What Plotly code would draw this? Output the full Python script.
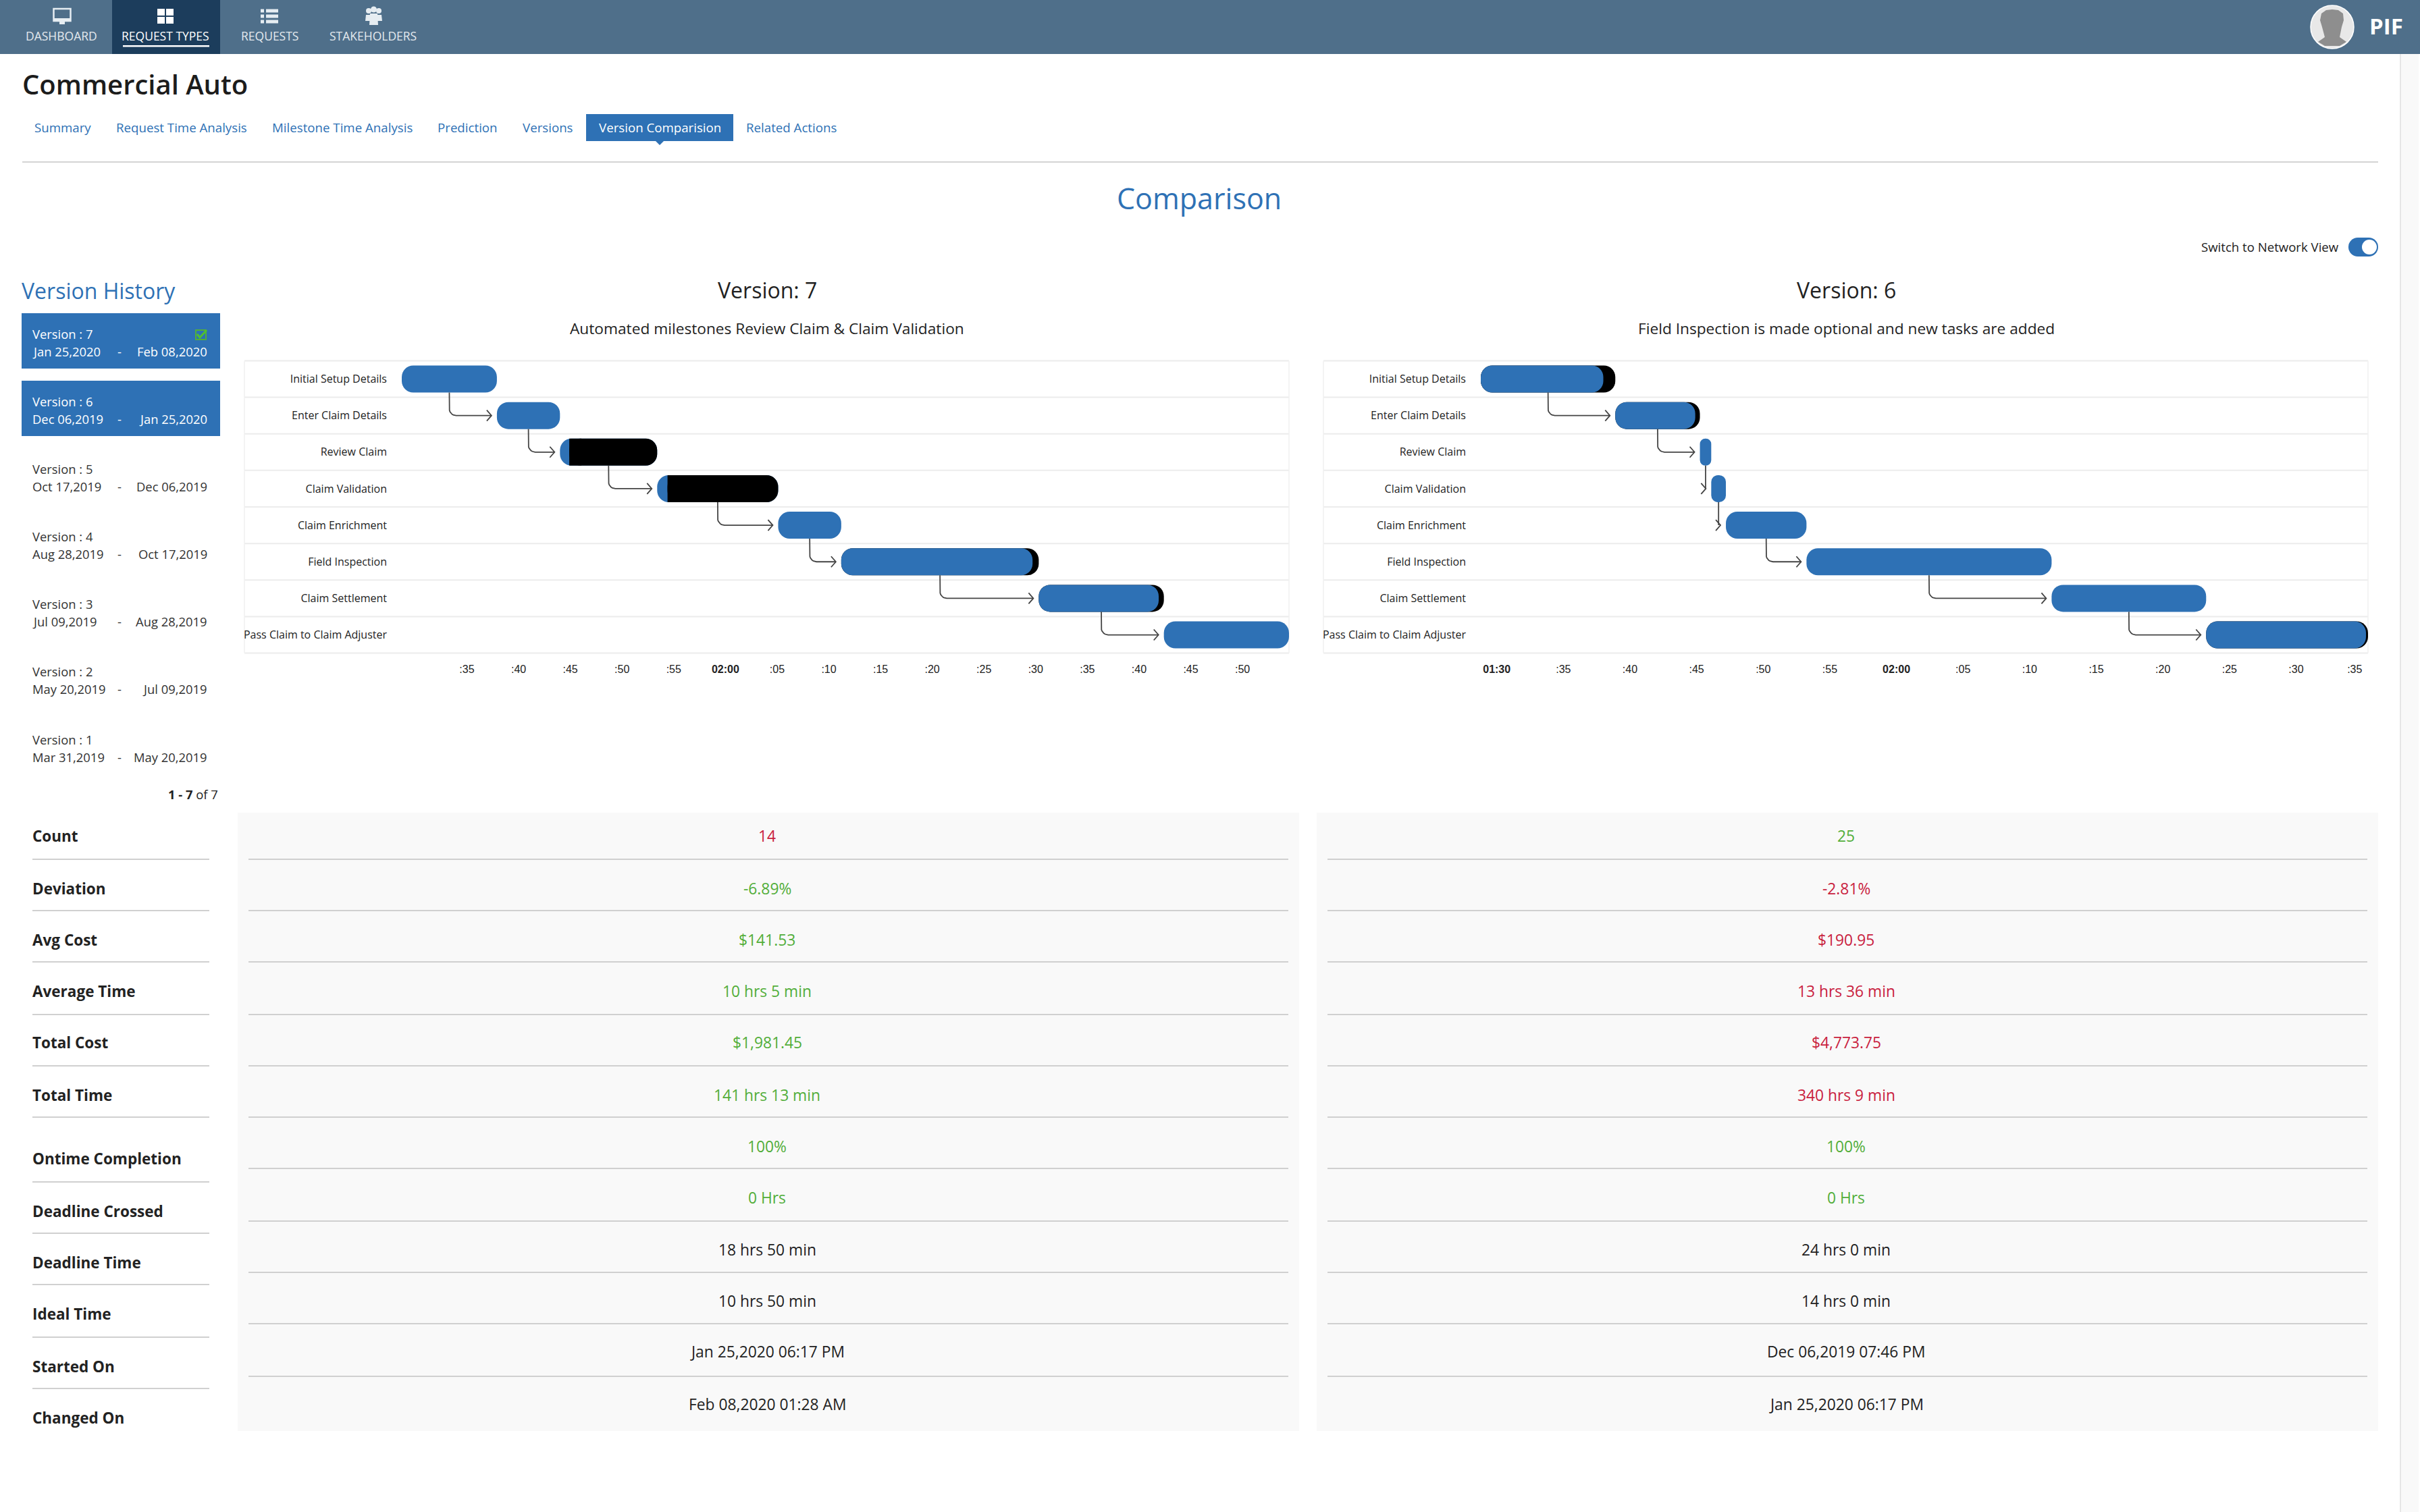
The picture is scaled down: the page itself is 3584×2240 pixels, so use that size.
import numpy as np
import plotly.graph_objects as go

W, H = 3584, 2240
BLUE = "#2e71b5"
GREEN = "#52ae3a"
RED = "#c9223f"
DARK = "#222222"
SANS = "Open Sans"

# ---------- data ----------
milestones = ["Initial Setup Details", "Enter Claim Details", "Review Claim", "Claim Validation",
              "Claim Enrichment", "Field Inspection", "Claim Settlement", "Pass Claim to Claim Adjuster"]
# minutes on the time axis (120 = 02:00)
v7_start = [88.7, 97.9, 104.0, 113.4, 125.1, 131.2, 150.3, 162.4]
v7_end = [97.9, 104.0, 113.4, 125.1, 131.2, 150.3, 162.4, 174.5]
v7_blue_end = [97.9, 104.0, 113.4, 125.1, 131.2, 149.7, 161.9, 174.5]
v7_auto_from = [None, None, 104.9, 114.4, None, None, None, None]
v7_ticks = [95, 100, 105, 110, 115, 120, 125, 130, 135, 140, 145, 150, 155, 160, 165, 170]
v7_ticktext = [":35", ":40", ":45", ":50", ":55", "<b>02:00</b>", ":05", ":10", ":15", ":20", ":25",
               ":30", ":35", ":40", ":45", ":50"]

v6_start = [88.8, 98.9, 105.25, 106.1, 107.2, 113.25, 131.65, 143.25]
v6_end = [98.9, 105.25, 106.1, 107.2, 113.25, 131.65, 143.25, 155.4]
v6_blue_end = [98.0, 104.9, 106.1, 107.2, 113.25, 131.65, 143.25, 155.25]
v6_auto_from = [None] * 8
v6_ticks = [90, 95, 100, 105, 110, 115, 120, 125, 130, 135, 140, 145, 150, 154.4]
v6_ticktext = ["<b>01:30</b>", ":35", ":40", ":45", ":50", ":55", "<b>02:00</b>", ":05", ":10", ":15",
               ":20", ":25", ":30", ":35"]

nav_items = ["DASHBOARD", "REQUEST TYPES", "REQUESTS", "STAKEHOLDERS"]
tabs = ["Summary", "Request Time Analysis", "Milestone Time Analysis", "Prediction", "Versions",
        "Version Comparision", "Related Actions"]
versions = ["Version : 7", "Version : 6", "Version : 5", "Version : 4", "Version : 3", "Version : 2", "Version : 1"]
version_from = ["Jan 25,2020", "Dec 06,2019", "Oct 17,2019", "Aug 28,2019", "Jul 09,2019", "May 20,2019", "Mar 31,2019"]
version_to = ["Feb 08,2020", "Jan 25,2020", "Dec 06,2019", "Oct 17,2019", "Aug 28,2019", "Jul 09,2019", "May 20,2019"]

metric_labels = ["Count", "Deviation", "Avg Cost", "Average Time", "Total Cost", "Total Time", "Ontime Completion",
                 "Deadline Crossed", "Deadline Time", "Ideal Time", "Started On", "Changed On"]
v7_values = ["14", "-6.89%", "$141.53", "10 hrs 5 min", "$1,981.45", "141 hrs 13 min", "100%", "0 Hrs",
             "18 hrs 50 min", "10 hrs 50 min", "Jan 25,2020 06:17 PM", "Feb 08,2020 01:28 AM"]
v6_values = ["25", "-2.81%", "$190.95", "13 hrs 36 min", "$4,773.75", "340 hrs 9 min", "100%", "0 Hrs",
             "24 hrs 0 min", "14 hrs 0 min", "Dec 06,2019 07:46 PM", "Jan 25,2020 06:17 PM"]
v7_colors = [RED, GREEN, GREEN, GREEN, GREEN, GREEN, GREEN, GREEN, DARK, DARK, DARK, DARK]
v6_colors = [GREEN, RED, RED, RED, RED, RED, GREEN, GREEN, DARK, DARK, DARK, DARK]

# ---------- layout geometry (pixels) ----------
label_y = [1238, 1316, 1392, 1468, 1544, 1622, 1716, 1794, 1870, 1946, 2024, 2100]
value_y = [1238, 1316, 1392, 1468, 1544, 1622, 1698, 1774, 1851, 1927, 2002, 2080]
label_line_y = [1273, 1349, 1425, 1503, 1579, 1655, 1751, 1827, 1903, 1981, 2057]
value_line_y = [1273, 1349, 1425, 1503, 1579, 1655, 1731, 1809, 1885, 1961, 2039]
row_top, row_bottom = 534.4, 967.6


def fx(p):
    return p / W


def fy(p):
    return 1 - p / H


fig = go.Figure()
shapes, annos = [], []


def rect(x0, y0, x1, y1, fill, layer="below"):
    shapes.append(dict(type="rect", xref="paper", yref="paper", x0=fx(x0), x1=fx(x1), y0=fy(y0), y1=fy(y1),
                       fillcolor=fill, line_width=0, layer=layer))


def hline(x0, x1, y, color="#d0d0d0", w=2):
    shapes.append(dict(type="line", xref="paper", yref="paper", x0=fx(x0), x1=fx(x1), y0=fy(y), y1=fy(y),
                       line=dict(color=color, width=w), layer="below"))


def circle(cx, cy, r, fill, line=None, lw=0):
    shapes.append(dict(type="circle", xref="paper", yref="paper", x0=fx(cx - r), x1=fx(cx + r), y0=fy(cy + r),
                       y1=fy(cy - r), fillcolor=fill, line=dict(color=line or fill, width=lw), layer="above"))


def path(pts, fill=None, line=None, lw=0, close=True):
    d = "M" + " L".join(f"{fx(a):.6f},{fy(b):.6f}" for a, b in pts) + (" Z" if close else "")
    shapes.append(dict(type="path", xref="paper", yref="paper", path=d, fillcolor=fill or "rgba(0,0,0,0)",
                       line=dict(color=line or "rgba(0,0,0,0)", width=lw), layer="above"))


def text(t, x, y, size, color=DARK, anchor="center", weight=400, family=SANS):
    annos.append(dict(text=t, xref="paper", yref="paper", x=fx(x), y=fy(y), xanchor=anchor, yanchor="middle",
                      showarrow=False, align=anchor, font=dict(family=family, size=size, color=color, weight=weight),
                      borderpad=0, borderwidth=0))


# ---------- page chrome ----------
HEAD = "#4f6f8a"
rect(0, 0, W, 80, HEAD)
rect(166, 0, 326, 80, "#1c3d5c")
rect(182, 67, 310, 69.5, "#ffffff")
nav_x = [91, 245, 399, 552]
nav_col = ["#e3e9ee", "#ffffff", "#e3e9ee", "#e3e9ee"]
for n, x, c in zip(nav_items, nav_x, nav_col):
    text(n, x, 53, 17.5, c)

# monitor
shapes.append(dict(type="rect", xref="paper", yref="paper", x0=fx(79.5), x1=fx(104.5), y0=fy(31), y1=fy(13),
                   fillcolor=HEAD, line=dict(color="#e6edf2", width=2.5), layer="above"))
rect(79, 27, 105, 32, "#e6edf2", "above")
rect(88, 32, 96, 36, "#e6edf2", "above")
# grid
for a, b in [(233, 244), (246, 257)]:
    for c, d in [(13, 23), (25, 35)]:
        rect(a, c, b, d, "#ffffff", "above")
# list
for yy in [16, 24, 32]:
    rect(386, yy - 2.5, 391, yy + 2.5, "#e6edf2", "above")
    rect(394, yy - 2.5, 412, yy + 2.5, "#e6edf2", "above")
# people
for cx, cy, r in [(546, 16, 4), (561, 16, 4), (553.5, 14, 4.5)]:
    circle(cx, cy, r, "#e6edf2")
path([(541, 31), (542, 22), (550, 22), (550, 31)], fill="#e6edf2")
path([(566, 31), (565, 22), (557, 22), (557, 31)], fill="#e6edf2")
path([(547, 37), (548, 20), (559, 20), (560, 37)], fill="#e6edf2")

# avatar
circle(3454, 40, 32, "#e8e8e8", "#ffffff", 1.5)
path([(3443, 55), (3439, 40), (3436, 30), (3438, 20), (3445, 15), (3454, 14), (3463, 15), (3470, 20), (3471, 30),
      (3468, 40), (3465, 55), (3475, 62), (3465, 68), (3443, 68), (3433, 62)], fill="#8e8e8e")
text("PIF", 3534, 39, 33, "#ffffff", weight=700)

# scrollbar strip
rect(3555, 80, 3582, H, "#f9f9f9")
rect(3554, 80, 3556, H, "#e6e6e6")

text("Commercial Auto", 33, 124.5, 40, "#1c1c1c", "left", weight=600)

tab_x = [92.5, 268.5, 507, 692, 811.5, 977, 1172]
rect(868, 169, 1086, 209, BLUE)
path([(971, 209), (983, 209), (977, 215)], fill=BLUE)
for i, (t, x) in enumerate(zip(tabs, tab_x)):
    text(t, x, 188.5, 18.7, "#ffffff" if i == 5 else BLUE)
hline(33, 3522, 240, "#d4d4d4", 2)

text("Comparison", 1776, 293.5, 43, BLUE)
text("Switch to Network View", 3464, 365, 18.6, DARK, "right")
circle(3492, 366, 14, BLUE)
circle(3508, 366, 14, BLUE)
rect(3492, 352, 3508, 380, BLUE, "above")
circle(3509, 366, 11, "#ffffff")

# ---------- version history ----------
text("Version History", 32, 430.5, 32, BLUE, "left")
rect(32, 464, 326, 546, BLUE)
rect(32, 564, 326, 646, BLUE)
for i, (v, a, b) in enumerate(zip(versions, version_from, version_to)):
    col = "#ffffff" if i < 2 else "#333333"
    y = 494.4 + i * 100.1
    text(v, 48, y, 18.4, col, "left")
    text(a, 48, y + 26, 18.4, col, "left")
    text("-", 177, y + 26, 18.4, col)
    text(b, 307, y + 26, 18.4, col, "right")
shapes.append(dict(type="rect", xref="paper", yref="paper", x0=fx(290), x1=fx(305), y0=fy(503), y1=fy(489),
                   line=dict(color=GREEN, width=2), fillcolor="rgba(0,0,0,0)", layer="above"))
path([(292, 495), (296, 500), (306, 489)], line="#4fc02f", lw=3, close=False)
text("<b>1 - 7</b> of 7", 323, 1176, 18.4, DARK, "right")

# ---------- headings ----------
text("Version: 7", 1136, 430, 32)
text("Automated milestones Review Claim & Claim Validation", 1136, 487, 22.7)
text("Version: 6", 2734, 430, 32)
text("Field Inspection is made optional and new tasks are added", 2734, 487, 22.7)

# ---------- comparison table ----------
rect(352, 1204, 1924, 2120, "#f9f9f9")
rect(1950, 1204, 3522, 2120, "#f9f9f9")
for t, y in zip(metric_labels, label_y):
    text(t, 48, y, 22.5, DARK, "left", weight=700)
for y in label_line_y:
    hline(48, 310, y)
for y in value_line_y:
    hline(368, 1908, y)
    hline(1966, 3506, y)
for t, c, y in zip(v7_values, v7_colors, value_y):
    text(t, 1136, y, 22.8, c)
for t, c, y in zip(v6_values, v6_colors, value_y):
    text(t, 2734, y, 22.8, c)

# ---------- gantt charts ----------
ROW_H = (row_bottom - row_top) / len(milestones)
BAR_H = 40 / ROW_H
RADIUS = 17
TICK_FONT = dict(family="Liberation Sans", size=16, color=DARK)


def add_gantt(suffix, start, end, blue_end, auto_from, ticks, ticktext, frame_l, frame_r, dom_l):
    xa, ya = "x" + suffix, "y" + suffix
    start, end, blue_end = map(np.array, (start, end, blue_end))
    rows = np.arange(len(start))
    px_per_min = (frame_r - dom_l) / (end[-1] - start[0])

    late = blue_end < end
    common = dict(orientation="h", width=BAR_H, xaxis=xa, yaxis=ya, showlegend=False)
    fig.add_bar(y=rows[late], x=(end - start)[late], base=start[late], name="Deadline",
                marker=dict(color="#000000", cornerradius=RADIUS, line_width=0), **common)
    fig.add_bar(y=rows, x=blue_end - start, base=start, name="Duration",
                marker=dict(color=BLUE, cornerradius=RADIUS, line_width=0), **common)
    auto_rows = [i for i, a in enumerate(auto_from) if a is not None]
    if auto_rows:
        a0 = np.array([auto_from[i] for i in auto_rows])
        fig.add_bar(y=auto_rows, x=end[auto_rows] - a0, base=a0, name="Automated",
                    marker=dict(color="#000000", cornerradius=RADIUS, line_width=0), **common)
        fig.add_bar(y=auto_rows, x=np.full(len(a0), (RADIUS + 1) / px_per_min), base=a0, name="Automated",
                    marker=dict(color="#000000", line_width=0), **common)

    # connectors
    lx, ly = [], []
    r = 10.0
    theta = np.linspace(0, np.pi / 2, 8)
    for i in rows[:-1]:
        mid = (start[i] + end[i]) / 2
        tip = start[i + 1] - 8 / px_per_min
        y0, y1 = i + BAR_H / 2, i + 1.0
        rx, ry = r / px_per_min, r / ROW_H
        if (tip - mid) > rx:
            lx += [mid] + list(mid + rx * (1 - np.cos(theta))) + [tip, None]
            ly += [y0] + list(y1 - ry * (1 - np.sin(theta))) + [y1, None]
        else:
            lx += [mid, mid, None]
            ly += [y0, y1, None]
        cx, cy = 7 / px_per_min, 8 / ROW_H
        lx += [tip - cx, tip, tip - cx, None]
        ly += [y1 - cy, y1, y1 + cy, None]
    fig.add_scatter(x=lx, y=ly, mode="lines", xaxis=xa, yaxis=ya, showlegend=False, hoverinfo="skip",
                    line=dict(color="#444444", width=1.8))

    # row lines and frame
    for k in range(len(start) + 1):
        y = row_top + k * ROW_H
        hline(frame_l, frame_r, y, "#ececec", 2)
    for xx in (frame_l, frame_r):
        shapes.append(dict(type="line", xref="paper", yref="paper", x0=fx(xx), x1=fx(xx), y0=fy(row_top),
                           y1=fy(row_bottom), line=dict(color="#f1f1f1", width=1.5), layer="below"))

    dom = [fx(dom_l), fx(frame_r)]
    fig.layout["xaxis" + suffix] = dict(
        domain=dom, range=[start[0], end[-1]], anchor=ya, showgrid=False, zeroline=False, showline=False,
        tickmode="array", tickvals=ticks, ticktext=ticktext, ticks="", tickfont=TICK_FONT, ticklabelstandoff=12,
        fixedrange=True)
    fig.layout["yaxis" + suffix] = dict(
        domain=[fy(row_bottom), fy(row_top)], range=[len(start) - 0.5, -0.5], anchor=xa, showgrid=False,
        zeroline=False, showline=False, tickmode="array", tickvals=list(rows), ticktext=milestones, ticks="",
        tickfont=dict(family=SANS, size=16, color=DARK), ticklabelstandoff=21, fixedrange=True)


add_gantt("", v7_start, v7_end, v7_blue_end, v7_auto_from, v7_ticks, v7_ticktext, 362, 1909, 595)
add_gantt("2", v6_start, v6_end, v6_blue_end, v6_auto_from, v6_ticks, v6_ticktext, 1960, 3507, 2193)

fig.update_layout(width=W, height=H, margin=dict(l=0, r=0, t=0, b=0, pad=0), barmode="overlay",
                  paper_bgcolor="#ffffff", plot_bgcolor="rgba(0,0,0,0)", showlegend=False,
                  shapes=shapes, annotations=annos, font=dict(family=SANS))

fig.write_html("out.html", config={"displayModeBar": False},
               post_script="document.body.style.margin='0';document.body.style.overflow='hidden';")
